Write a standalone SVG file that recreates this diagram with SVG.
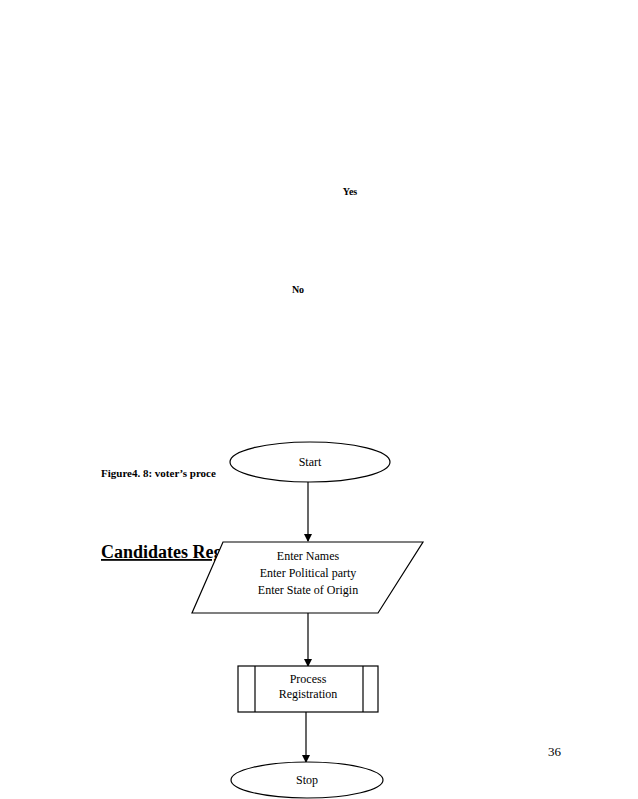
<svg xmlns="http://www.w3.org/2000/svg" width="638" height="799" viewBox="0 0 638 799">
<style>
.s{fill:#fff;stroke:#000;stroke-width:1.2}
.t{font-family:"Liberation Serif",serif;font-size:12px;fill:#000;text-anchor:middle}
.b{font-family:"Liberation Serif",serif;font-weight:bold;fill:#000}
.c{stroke:#000;stroke-width:1.2;fill:none}
</style>
<defs><marker id="a" markerWidth="8" markerHeight="8" refX="7" refY="4" orient="auto" markerUnits="userSpaceOnUse"><path d="M0,0L8,4L0,8z" fill="#000"/></marker></defs>
<rect width="638" height="799" fill="#fff"/>
<text class="b" x="350" y="195" font-size="10" text-anchor="middle">Yes</text>
<text class="b" x="298" y="293" font-size="10" text-anchor="middle">No</text>
<text class="b" x="101" y="477" font-size="11">Figure4. 8: voter’s proce</text>
<text class="b" x="101" y="558" font-size="18" text-decoration="underline">Candidates Regi</text>
<text x="548" y="756" font-family="Liberation Serif,serif" font-size="13">36</text>
<g id="connectors">
<line class="c" x1="308" y1="482" x2="308" y2="541" marker-end="url(#a)"/>
<line class="c" x1="308" y1="613" x2="308" y2="666" marker-end="url(#a)"/>
<line class="c" x1="306" y1="712" x2="306" y2="762" marker-end="url(#a)"/>
</g>
<g id="start"><ellipse class="s" cx="310" cy="462" rx="80" ry="20"/><text class="t" x="310" y="466">Start</text></g>
<g id="input"><polygon class="s" points="223,542 423,542 378,613 192,613"/>
<text class="t" x="308" y="560">Enter Names</text><text class="t" x="308" y="577">Enter Political party</text><text class="t" x="308" y="594">Enter State of Origin</text></g>
<g id="process"><rect class="s" x="238" y="666" width="140" height="46"/><line class="c" x1="255" y1="666" x2="255" y2="712"/><line class="c" x1="363" y1="666" x2="363" y2="712"/>
<text class="t" x="308" y="683">Process</text><text class="t" x="308" y="698">Registration</text></g>
<g id="stop"><ellipse class="s" cx="307" cy="780" rx="76" ry="18"/><text class="t" x="307" y="784">Stop</text></g>
</svg>
